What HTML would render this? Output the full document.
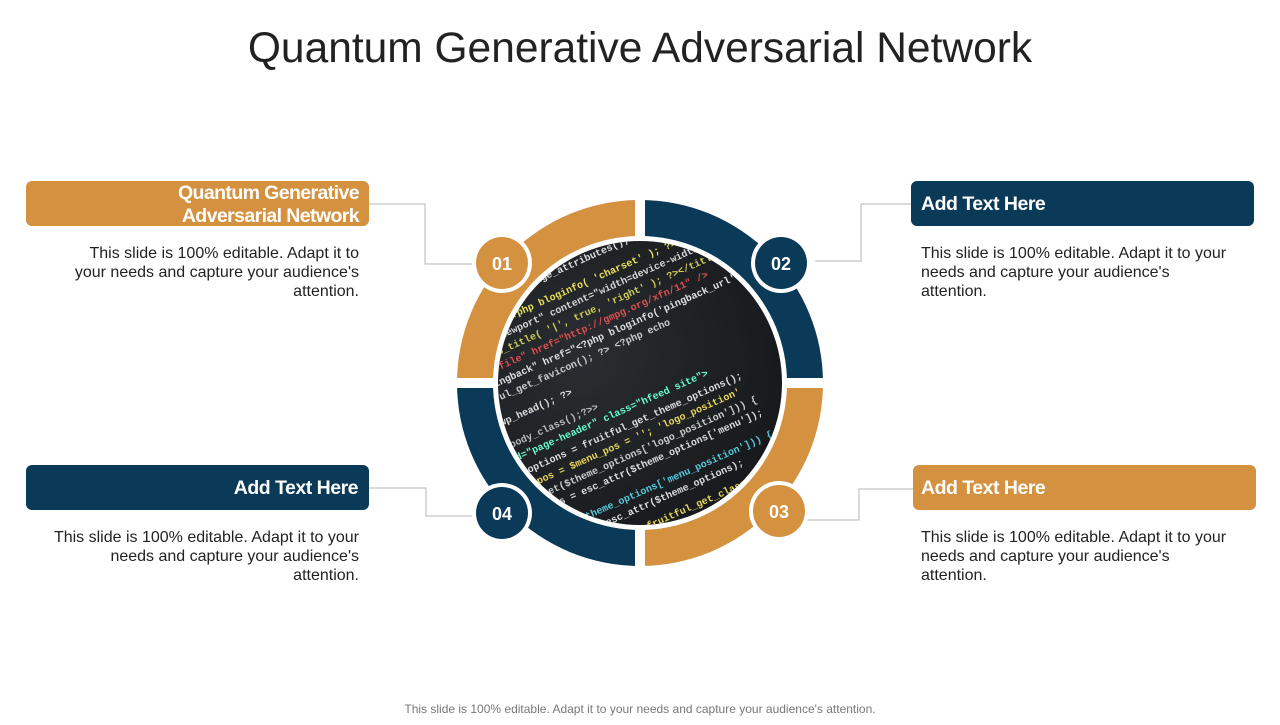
<!DOCTYPE html>
<html><head><meta charset="utf-8"><style>
body{margin:0;width:1280px;height:720px;background:#fff;overflow:hidden;font-family:"Liberation Sans",Arial,sans-serif;}
</style></head><body>
<svg width="1280" height="720" viewBox="0 0 1280 720" xmlns="http://www.w3.org/2000/svg" font-family="Liberation Sans, Arial, sans-serif">
<defs>
<clipPath id="img"><circle cx="640" cy="383" r="142"/></clipPath>
<radialGradient id="bg" cx="0.3" cy="0.4" r="0.8"><stop offset="0" stop-color="#2a2d31"/><stop offset="1" stop-color="#15171a"/></radialGradient>
</defs>
<text x="640" y="62" text-anchor="middle" font-size="42.5" fill="#222">Quantum Generative Adversarial Network</text>

<g stroke="#b5b5b5" stroke-width="1" fill="none">
<polyline points="369,204 425,204 425,264 474,264"/>
<polyline points="815,261 861,261 861,204 911,204"/>
<polyline points="807,520 859,520 859,489 913,489"/>
<polyline points="369,488 426,488 426,516 474,516"/>
</g>

<path d="M640,383 L457,383 A183,183 0 0 1 640,200 Z" fill="#D4913F"/>
<path d="M640,383 L640,200 A183,183 0 0 1 823,383 Z" fill="#0A3A57"/>
<path d="M640,383 L823,383 A183,183 0 0 1 640,566 Z" fill="#D4913F"/>
<path d="M640,383 L640,566 A183,183 0 0 1 457,383 Z" fill="#0A3A57"/>
<rect x="635" y="195" width="10" height="380" fill="#fff"/>
<rect x="450" y="378" width="380" height="10" fill="#fff"/>
<circle cx="640" cy="383" r="147" fill="#fff"/>
<circle cx="640" cy="383" r="142" fill="url(#bg)"/>
<g clip-path="url(#img)" font-family="Liberation Mono, monospace" font-size="10" font-weight="bold">
<g transform="rotate(-24 640 383)">
<text x="520" y="250" fill="#ddd">&lt;?php language_attributes(); ?&gt;</text>
<text x="490" y="272" fill="#e8e25a">charset="&lt;?php bloginfo( 'charset' ); ?&gt;" /&gt;</text>
<text x="490" y="286" fill="#d8d8d8">name="viewport" content="width=device-width" /&gt;</text>
<text x="480" y="300" fill="#cfcf5a">&lt;?php wp_title( '|', true, 'right' ); ?&gt;&lt;/title&gt;</text>
<text x="470" y="314" fill="#e05050">rel="profile" href="http://gmpg.org/xfn/11" /&gt;</text>
<text x="470" y="328" fill="#e0e0e0">rel="pingback" href="&lt;?php bloginfo('pingback_url'); ?&gt;"</text>
<text x="470" y="342" fill="#cccccc">fruitful_get_favicon(); ?&gt;  &lt;?php echo</text>
<text x="460" y="366" fill="#ddd">&lt;?php wp_head(); ?&gt;</text>
<text x="460" y="390" fill="#bbb">&lt;?php body_class();?&gt;&gt;</text>
<text x="460" y="404" fill="#6fc">&lt;div id="page-header" class="hfeed site"&gt;</text>
<text x="460" y="420" fill="#ddd">$theme_options = fruitful_get_theme_options();</text>
<text x="470" y="434" fill="#e8d85a">$logo_pos = $menu_pos = '';  'logo_position'</text>
<text x="470" y="448" fill="#ccc">if (isset($theme_options['logo_position'])) {</text>
<text x="470" y="462" fill="#ddd">$logo_pos = esc_attr($theme_options['menu']);</text>
<text x="470" y="486" fill="#5cd">if (isset($theme_options['menu_position'])) {</text>
<text x="480" y="500" fill="#ddd">$menu_pos = esc_attr($theme_options);</text>
<text x="480" y="520" fill="#e8d85a">$logo_pos_class = fruitful_get_class_pos($logo);</text>
<text x="480" y="534" fill="#ddd">$menu_pos_class = fruitful_get_class_pos($menu);</text>
</g></g>

<g font-size="18" font-weight="bold" fill="#fff" text-anchor="middle">
<circle cx="502" cy="263" r="30" fill="#fff"/><circle cx="502" cy="263" r="26" fill="#D4913F"/><text x="502" y="270" fill="#fff">01</text>
<circle cx="781" cy="263" r="30" fill="#fff"/><circle cx="781" cy="263" r="26" fill="#0A3A57"/><text x="781" y="270" fill="#fff">02</text>
<circle cx="779" cy="511" r="30" fill="#fff"/><circle cx="779" cy="511" r="26" fill="#D4913F"/><text x="779" y="518" fill="#fff">03</text>
<circle cx="502" cy="513" r="30" fill="#fff"/><circle cx="502" cy="513" r="26" fill="#0A3A57"/><text x="502" y="520" fill="#fff">04</text>
</g>

<rect x="26" y="181" width="343" height="45" rx="6" fill="#D4913F"/>
<text x="359" y="199" text-anchor="end" font-size="19.5" font-weight="bold" fill="#fff" letter-spacing="-0.6">Quantum Generative</text>
<text x="359" y="222" text-anchor="end" font-size="19.5" font-weight="bold" fill="#fff" letter-spacing="-0.6">Adversarial Network</text>
<rect x="911" y="181" width="343" height="45" rx="6" fill="#0A3A57"/>
<text x="921" y="210" font-size="19.5" font-weight="bold" fill="#fff" letter-spacing="-0.5">Add Text Here</text>
<rect x="26" y="465" width="343" height="45" rx="6" fill="#0A3A57"/>
<text x="358" y="494" text-anchor="end" font-size="19.5" font-weight="bold" fill="#fff" letter-spacing="-0.5">Add Text Here</text>
<rect x="913" y="465" width="343" height="45" rx="6" fill="#D4913F"/>
<text x="921" y="494" font-size="19.5" font-weight="bold" fill="#fff" letter-spacing="-0.5">Add Text Here</text>

<g font-size="16" fill="#222">
<text x="359" y="258" text-anchor="end">This slide is 100% editable. Adapt it to</text>
<text x="359" y="277" text-anchor="end">your needs and capture your audience's</text>
<text x="359" y="296" text-anchor="end">attention.</text>
<text x="921" y="258">This slide is 100% editable. Adapt it to your</text>
<text x="921" y="277">needs and capture your  audience's</text>
<text x="921" y="296">attention.</text>
<text x="359" y="542" text-anchor="end">This slide is 100% editable. Adapt it to your</text>
<text x="359" y="561" text-anchor="end">needs and capture your audience's</text>
<text x="359" y="580" text-anchor="end">attention.</text>
<text x="921" y="542">This slide is 100% editable. Adapt it to your</text>
<text x="921" y="561">needs and capture your  audience's</text>
<text x="921" y="580">attention.</text>
</g>
<text x="640" y="713" text-anchor="middle" font-size="12" fill="#777">This slide is 100% editable. Adapt it to your needs and capture your audience's attention.</text>
</svg>
</body></html>
